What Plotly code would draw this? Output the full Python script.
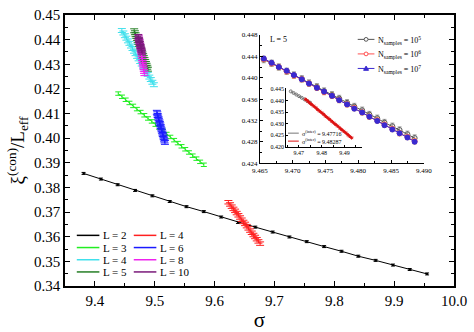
import plotly.graph_objects as go

# ---------------- main panel data ----------------
L2_x = [9.381, 9.410, 9.438, 9.467, 9.496, 9.525, 9.553, 9.582, 9.611, 9.639, 9.668,
        9.697, 9.725, 9.754, 9.783, 9.812, 9.840, 9.869, 9.898, 9.926, 9.955]
L2_y = [0.3857, 0.3834, 0.3811, 0.3788, 0.3766, 0.3743, 0.3722, 0.3702, 0.3680, 0.3658, 0.3639,
        0.3619, 0.3599, 0.3580, 0.3560, 0.3541, 0.3521, 0.3504, 0.3485, 0.3467, 0.3449]

L3_x = [9.4390, 9.4452, 9.4514, 9.4577, 9.4639, 9.4701, 9.4763, 9.4825, 9.4887, 9.4950, 9.5012, 9.5074,
        9.5136, 9.5198, 9.5260, 9.5323, 9.5385, 9.5447, 9.5509, 9.5571, 9.5633, 9.5696, 9.5758, 9.5820]
L3_y = [0.4181, 0.4168, 0.4156, 0.4143, 0.4131, 0.4118, 0.4106, 0.4093, 0.4080, 0.4068, 0.4055, 0.4043,
        0.4030, 0.4017, 0.4005, 0.3992, 0.3980, 0.3967, 0.3955, 0.3942, 0.3929, 0.3917, 0.3904, 0.3892]

L4_x = [9.4450, 9.4475, 9.4501, 9.4526, 9.4552, 9.4577, 9.4603, 9.4628, 9.4654, 9.4679, 9.4705,
        9.4730, 9.4756, 9.4781, 9.4807, 9.4832, 9.4858, 9.4883, 9.4909, 9.4934, 9.4960, 9.4985]
L4_y = [0.4437, 0.4427, 0.4416, 0.4406, 0.4395, 0.4385, 0.4374, 0.4364, 0.4353, 0.4343, 0.4332,
        0.4322, 0.4311, 0.4301, 0.4290, 0.4280, 0.4269, 0.4259, 0.4248, 0.4238, 0.4227, 0.4217]

L5_x = [9.4656, 9.4668, 9.4679, 9.4691, 9.4702, 9.4714, 9.4725, 9.4737, 9.4748, 9.4760, 9.4771,
        9.4783, 9.4794, 9.4806, 9.4817, 9.4829, 9.4840, 9.4852, 9.4863, 9.4875, 9.4886]
L5_y = [0.4436, 0.4428, 0.4420, 0.4413, 0.4405, 0.4397, 0.4389, 0.4381, 0.4374, 0.4366, 0.4358,
        0.4350, 0.4342, 0.4335, 0.4327, 0.4319, 0.4311, 0.4303, 0.4296, 0.4288, 0.4280]

L4r_x = [9.6230, 9.6258, 9.6286, 9.6314, 9.6342, 9.6369, 9.6397, 9.6425, 9.6453, 9.6481,
         9.6509, 9.6537, 9.6565, 9.6593, 9.6621, 9.6648, 9.6676, 9.6704, 9.6732, 9.6760]
L4r_y = [0.3740, 0.3731, 0.3722, 0.3713, 0.3705, 0.3696, 0.3687, 0.3678, 0.3669, 0.3660,
         0.3652, 0.3643, 0.3634, 0.3625, 0.3616, 0.3607, 0.3599, 0.3590, 0.3581, 0.3572]

L6_x = [9.5035, 9.5042, 9.5049, 9.5056, 9.5063, 9.5071, 9.5078, 9.5085, 9.5092, 9.5099,
        9.5106, 9.5113, 9.5120, 9.5127, 9.5134, 9.5142, 9.5149, 9.5156, 9.5163, 9.5170]
L6_y = [0.4105, 0.4099, 0.4092, 0.4086, 0.4079, 0.4073, 0.4066, 0.4060, 0.4054, 0.4047,
        0.4041, 0.4034, 0.4028, 0.4021, 0.4015, 0.4009, 0.4002, 0.3996, 0.3989, 0.3983]

L8_x = [9.4733, 9.4739, 9.4744, 9.4750, 9.4755, 9.4761, 9.4766, 9.4772, 9.4777,
        9.4783, 9.4788, 9.4794, 9.4799, 9.4805, 9.4810, 9.4816, 9.4821, 9.4827]
L8_y = [0.4411, 0.4402, 0.4393, 0.4385, 0.4376, 0.4367, 0.4358, 0.4350, 0.4341,
        0.4332, 0.4323, 0.4315, 0.4306, 0.4297, 0.4288, 0.4280, 0.4271, 0.4262]

L10_x = [9.4722, 9.4728, 9.4734, 9.4740, 9.4746, 9.4752, 9.4758, 9.4764, 9.4770, 9.4776, 9.4782, 9.4788]
L10_y = [0.4413, 0.4407, 0.4401, 0.4396, 0.4390, 0.4384, 0.4378, 0.4372, 0.4366, 0.4361, 0.4355, 0.4349]

main_names = ["L = 2", "L = 3", "L = 4", "L = 5", "L = 4", "L = 6", "L = 8", "L = 10"]
main_colors = ["#000000", "#22ee22", "#40e0ec", "#267f26", "#ff2020", "#1a1aff", "#ee22ee", "#7a1a7a"]

# ---------------- inset (L = 5) data ----------------
ins_x = [9.4656, 9.4668, 9.4679, 9.4691, 9.4702, 9.4714, 9.4725, 9.4737, 9.4748, 9.4760, 9.4771,
         9.4783, 9.4794, 9.4806, 9.4817, 9.4829, 9.4840, 9.4852, 9.4863, 9.4875, 9.4886]
ins_y5 = [0.4434, 0.4427, 0.4420, 0.4412, 0.4405, 0.4398, 0.4390, 0.4383, 0.4375, 0.4368, 0.4361,
          0.4353, 0.4346, 0.4339, 0.4331, 0.4324, 0.4316, 0.4309, 0.4302, 0.4294, 0.4287]
ins_y6 = [0.4435, 0.4427, 0.4420, 0.4412, 0.4404, 0.4397, 0.4389, 0.4381, 0.4373, 0.4366, 0.4358,
          0.4350, 0.4343, 0.4335, 0.4327, 0.4320, 0.4312, 0.4304, 0.4296, 0.4289, 0.4281]
ins_y7 = [0.4436, 0.4428, 0.4420, 0.4413, 0.4405, 0.4397, 0.4389, 0.4381, 0.4374, 0.4366, 0.4358,
          0.4350, 0.4342, 0.4335, 0.4327, 0.4319, 0.4311, 0.4303, 0.4296, 0.4288, 0.4280]
ins_names = ["N<sub>samples</sub> = 10<sup>5</sup>", "N<sub>samples</sub> = 10<sup>6</sup>",
             "N<sub>samples</sub> = 10<sup>7</sup>"]
ins_colors = ["#555555", "#ff5050", "#3a2ad0"]
ins_err_colors = ["#8a8a8a", "#e8a050", "#7070ff"]

# ---------------- sub-inset data ----------------
sub_gx = [9.4665, 9.4677, 9.4689, 9.4701, 9.4713, 9.4725, 9.4737, 9.4749]
sub_gy = [0.4440, 0.4433, 0.4426, 0.4419, 0.4412, 0.4405, 0.4398, 0.4391]
sub_rx = [9.4730, 9.4739, 9.4747, 9.4756, 9.4765, 9.4774, 9.4782, 9.4791, 9.4800, 9.4809, 9.4817, 9.4826,
          9.4835, 9.4844, 9.4852, 9.4861, 9.4870, 9.4879, 9.4887, 9.4896, 9.4905, 9.4914, 9.4922, 9.4931]
sub_ry = [0.4405, 0.4398, 0.4390, 0.4383, 0.4376, 0.4369, 0.4361, 0.4354, 0.4347, 0.4340, 0.4332, 0.4325,
          0.4318, 0.4310, 0.4303, 0.4296, 0.4289, 0.4281, 0.4274, 0.4267, 0.4260, 0.4252, 0.4245, 0.4238]
sub_names = ["σ<sup>(inter)</sup> = 9.47716", "σ<sup>(inter)</sup> = 9.48287"]
sub_colors = ["#777777", "#dd1111"]

FONT = "Liberation Serif, Times New Roman, serif"

# layout geometry (pixels)
W, H = 474, 332
ML, MR, MT, MB = 65, 13, 7, 36
PW, PH = W - ML - MR, H - MT - MB


def px(x):
    return (x - ML) / PW


def py(y):
    return (H - MB - y) / PH


fig = go.Figure()

main_series = [
    (L2_x, L2_y, 0.0004, 2),
    (L3_x, L3_y, 0.0007, 3),
    (L4_x, L4_y, 0.0008, 4),
    (L5_x, L5_y, 0.0008, 4),
    (L4r_x, L4r_y, 0.0007, 4),
    (L6_x, L6_y, 0.0008, 4),
    (L8_x, L8_y, 0.0008, 4),
    (L10_x, L10_y, 0.0008, 4),
]
for i, ((x, y, e, cap), name, col) in enumerate(zip(main_series, main_names, main_colors)):
    fig.add_trace(go.Scatter(
        x=x, y=y, mode="lines+markers" if i == 0 else "lines",
        name=name, showlegend=False,
        line=dict(color=col, width=1),
        marker=dict(size=2, color=col, symbol="square"),
        error_y=dict(type="constant", value=e, color=col, thickness=1, width=cap),
        xaxis="x", yaxis="y"))

# inset
for yv, name, col, ecol, sym, err in zip([ins_y5, ins_y6, ins_y7], ins_names, ins_colors, ins_err_colors,
                                         ["circle-open", "circle-open", "circle"], [0.0006, 0.0005, 0.0003]):
    fig.add_trace(go.Scatter(
        x=ins_x, y=yv, mode="lines+markers", name=name, showlegend=False,
        line=dict(color=col, width=1),
        marker=dict(size=5, color=col, symbol=sym, line=dict(width=1, color=col)),
        error_y=dict(type="constant", value=err, color=ecol, thickness=0.8, width=2),
        xaxis="x2", yaxis="y2"))

# sub-inset
fig.add_trace(go.Scatter(x=sub_gx, y=sub_gy, mode="lines+markers", name=sub_names[0], showlegend=False,
                         line=dict(color=sub_colors[0], width=1),
                         marker=dict(size=3, symbol="circle-open", color=sub_colors[0]),
                         xaxis="x3", yaxis="y3"))
fig.add_trace(go.Scatter(x=sub_rx, y=sub_ry, mode="lines+markers", name=sub_names[1], showlegend=False,
                         line=dict(color=sub_colors[1], width=1.5),
                         marker=dict(size=3, symbol="asterisk-open", color=sub_colors[1],
                                     line=dict(width=1, color=sub_colors[1])),
                         xaxis="x3", yaxis="y3"))

axis_common = dict(showline=True, linecolor="black", ticks="inside", tickcolor="black",
                   showgrid=False, zeroline=False)

shapes = []
annotations = []

# main legend (two columns, drawn manually)
rows = [242, 255, 268, 281]
for i, (name, col) in enumerate(zip(main_names, main_colors)):
    c, r = divmod(i, 4)
    x0 = 77 if c == 0 else 135
    yy = rows[r]
    shapes.append(dict(type="line", xref="paper", yref="paper", x0=px(x0), x1=px(x0 + 23),
                       y0=py(yy), y1=py(yy), line=dict(color=col, width=1.5)))
    annotations.append(dict(text=name, xref="paper", yref="paper", x=px(x0 + 25), y=py(yy),
                            xanchor="left", yanchor="middle", showarrow=False,
                            font=dict(family=FONT, size=11, color="black")))

# inset legend
rows2 = [33, 48.5, 64]
for name, col, r, sym in zip(ins_names, ins_colors, rows2, ["o", "o", "t"]):
    shapes.append(dict(type="line", xref="paper", yref="paper", x0=px(363), x1=px(380),
                       y0=py(r), y1=py(r), line=dict(color=col, width=1)))
    if sym == "o":
        shapes.append(dict(type="circle", xref="paper", yref="paper", x0=px(369.5), x1=px(373.5),
                           y0=py(r + 2), y1=py(r - 2), line=dict(color=col, width=1), fillcolor="white"))
    else:
        shapes.append(dict(type="path", xref="paper", yref="paper",
                           path=f"M {px(369)} {py(r + 2)} L {px(374)} {py(r + 2)} L {px(371.5)} {py(r - 2.5)} Z",
                           line=dict(color=col, width=1), fillcolor=col))
    annotations.append(dict(text=name, xref="paper", yref="paper", x=px(382), y=py(r + 1),
                            xanchor="left", yanchor="middle", showarrow=False,
                            font=dict(family=FONT, size=8, color="black")))

# sub-inset legend
rows3 = [133, 141.5]
for name, col, r in zip(sub_names, sub_colors, rows3):
    shapes.append(dict(type="line", xref="paper", yref="paper", x0=px(292), x1=px(303),
                       y0=py(r), y1=py(r), line=dict(color=col, width=1)))
    annotations.append(dict(text=name, xref="paper", yref="paper", x=px(304), y=py(r),
                            xanchor="left", yanchor="middle", showarrow=False,
                            font=dict(family=FONT, size=6, color="black")))

annotations.append(dict(text="L = 5", xref="paper", yref="paper", x=px(272), y=py(33),
                        xanchor="left", yanchor="middle", showarrow=False,
                        font=dict(family=FONT, size=8, color="black")))

fig.update_layout(
    width=W, height=H,
    margin=dict(l=ML, r=MR, t=MT, b=MB),
    paper_bgcolor="white", plot_bgcolor="rgba(0,0,0,0)",
    font=dict(family=FONT, color="black"),
    showlegend=False,
    xaxis=dict(**axis_common, domain=[0, 1], range=[9.35, 10.0], dtick=0.1, tick0=9.4,
               tickformat=".1f", mirror="ticks", linewidth=1.5, ticklen=5, tickwidth=1.2,
               minor=dict(dtick=0.05, ticks="inside", ticklen=3, tickcolor="black"),
               tickfont=dict(size=15, family=FONT),
               title=dict(text="σ", font=dict(size=21, family=FONT), standoff=2), anchor="y"),
    yaxis=dict(**axis_common, domain=[0, 1], range=[0.34, 0.45], dtick=0.01, tick0=0.34,
               tickformat=".2f", mirror="ticks", linewidth=1.5, ticklen=5, tickwidth=1.2,
               minor=dict(dtick=0.005, ticks="inside", ticklen=3, tickcolor="black"),
               tickfont=dict(size=15, family=FONT),
               title=dict(text="ξ<sup>(con)</sup>/L<sub>eff</sub>", font=dict(size=19, family=FONT), standoff=4),
               anchor="x"),
    xaxis2=dict(**axis_common, domain=[px(263.3), px(430.3)], range=[9.465, 9.490], dtick=0.005,
                tick0=9.465, tickformat=".3f", linewidth=1, ticklen=3, tickwidth=0.8,
                minor=dict(dtick=0.0025, ticks="inside", ticklen=2, tickcolor="black"),
                tickfont=dict(size=7, family=FONT), anchor="y2"),
    yaxis2=dict(**axis_common, domain=[py(165), py(28.3)], range=[0.424, 0.448], dtick=0.004,
                tick0=0.424, tickformat=".3f", linewidth=1, ticklen=3, tickwidth=0.8,
                minor=dict(dtick=0.002, ticks="inside", ticklen=2, tickcolor="black"),
                tickfont=dict(size=7, family=FONT), anchor="x2"),
    xaxis3=dict(**axis_common, domain=[px(290), px(367)], range=[9.4644, 9.4975], dtick=0.01,
                tick0=9.47, tickformat=".2f", linewidth=0.8, ticklen=2, tickwidth=0.7,
                minor=dict(dtick=0.005, ticks="inside", ticklen=1.5, tickcolor="black"),
                tickfont=dict(size=6, family=FONT), anchor="y3"),
    yaxis3=dict(**axis_common, domain=[py(147.3), py(85)], range=[0.42, 0.4454], dtick=0.005,
                tick0=0.42, tickformat=".3f", linewidth=0.8, ticklen=2, tickwidth=0.7,
                tickfont=dict(size=6, family=FONT), anchor="x3"),
    shapes=shapes,
    annotations=annotations,
)

fig.write_html("out.html")
